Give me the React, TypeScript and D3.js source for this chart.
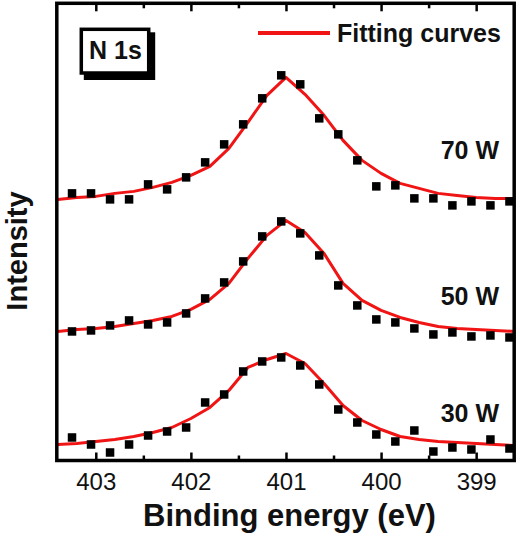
import * as d3 from "d3";
import { useEffect, useRef } from "react";

const WIDTH = 520;
const HEIGHT = 536;
const FONT = "'Liberation Sans', Arial, sans-serif";

// binding energies of the measured points (eV)
const pointEnergy = [
  403.25, 403.05, 402.85, 402.65, 402.45, 402.25, 402.05, 401.85, 401.65, 401.45, 401.25, 401.05,
  400.85, 400.65, 400.45, 400.25, 400.05, 399.85, 399.65, 399.45, 399.25, 399.05, 398.85, 398.65,
];

// energies where the fitting curves were read
const fitEnergy = [
  403.4, 403.2, 403.0, 402.8, 402.6, 402.4, 402.2, 402.0, 401.8, 401.6, 401.4, 401.2, 401.0,
  400.8, 400.6, 400.4, 400.2, 400.0, 399.8, 399.6, 399.4, 399.2, 399.0, 398.8, 398.6,
];

// intensities (a.u., stacked)
const points70W = [
  267, 267, 261, 261, 276, 271, 283, 298, 316, 336, 362, 385,
  376, 342, 326, 300, 274, 275, 262, 262, 255, 259, 255, 259,
];
const points50W = [
  129, 130, 135, 140, 136, 138, 147, 162, 178, 199, 224, 239,
  227, 205, 175, 155, 141, 138, 132, 126, 128, 124, 125, 123,
];
const points30W = [
  23, 16, 8, 16, 25, 29, 33, 58, 66, 89, 99, 103,
  95, 76, 51, 38, 26, 19, 30, 9, 13, 11, 21, 12,
];

const fit70W = [
  261, 263, 264, 267, 269, 273, 278, 285, 294, 312, 338, 365, 383,
  366, 345, 320, 300, 287, 277, 272, 267, 265, 263, 262, 262,
];
const fit50W = [
  129, 131, 132, 134, 137, 140, 144, 151, 161, 177, 202, 225, 240,
  228, 207, 177, 160, 150, 143, 138, 134, 132, 131, 130, 129,
];
const fit30W = [
  16, 17, 19, 21, 24, 28, 33, 42, 53, 70, 93, 101, 107,
  97, 77, 55, 40, 31, 24, 21, 19, 18, 17, 16, 15,
];

const seriesLabels = ["70 W", "50 W", "30 W"];
const seriesPoints = [points70W, points50W, points30W];
const seriesFits = [fit70W, fit50W, fit30W];
// baseline level of each label, in intensity units
const labelLevels = [301, 155, 38];

const majorTicks = [403, 402, 401, 400, 399];
const minorTicks = [402.5, 401.5, 400.5, 399.5];

const App = () => {
  const svgRef = useRef<SVGSVGElement>(null);

  useEffect(() => {
    if (!svgRef.current) return;
    const svg = d3.select(svgRef.current);
    svg.selectAll("*").remove();

    const left = 56.8;
    const right = 514.2;
    const top = 3.3;
    const bottom = 460.5;

    const x = d3.scaleLinear().domain([403.41, 398.6]).range([left, right]);
    const y = d3.scaleLinear().domain([0, 457]).range([bottom, top]);

    svg
      .append("defs")
      .append("clipPath")
      .attr("id", "plot-clip")
      .append("rect")
      .attr("x", left)
      .attr("y", top)
      .attr("width", right - left)
      .attr("height", bottom - top);

    // fitting curves
    const line = d3
      .line<number>()
      .x((_, i) => x(fitEnergy[i]))
      .y((d) => y(d));

    const plot = svg.append("g").attr("clip-path", "url(#plot-clip)");

    seriesFits.forEach((fit) => {
      plot
        .append("path")
        .attr("d", line(fit))
        .attr("fill", "none")
        .attr("stroke", "#f01414")
        .attr("stroke-width", 3)
        .attr("stroke-linejoin", "round");
    });

    // measured points
    const size = 8.5;
    seriesPoints.forEach((pts) => {
      svg
        .append("g")
        .selectAll("rect")
        .data(pts)
        .enter()
        .append("rect")
        .attr("x", (_, i) => x(pointEnergy[i]) - size / 2)
        .attr("y", (d) => y(d) - size / 2)
        .attr("width", size)
        .attr("height", size)
        .attr("fill", "#000");
    });

    // series labels
    seriesLabels.forEach((lab, i) => {
      svg
        .append("text")
        .attr("x", 499)
        .attr("y", y(labelLevels[i]))
        .attr("text-anchor", "end")
        .attr("font-family", FONT)
        .attr("font-size", 25)
        .attr("font-weight", "bold")
        .attr("fill", "#111")
        .text(lab);
    });

    // axes
    const bottomAxis = svg
      .append("g")
      .attr("transform", `translate(0,${bottom})`)
      .call(
        d3
          .axisBottom(x)
          .tickValues(majorTicks)
          .tickSize(-8)
          .tickPadding(12)
          .tickFormat((d) => d3.format("d")(d as number)),
      );
    bottomAxis.select(".domain").remove();
    bottomAxis
      .selectAll("text")
      .attr("font-family", FONT)
      .attr("font-size", 24)
      .attr("fill", "#111");

    const bottomMinor = svg
      .append("g")
      .attr("transform", `translate(0,${bottom})`)
      .call(d3.axisBottom(x).tickValues(minorTicks).tickSize(-5).tickFormat(() => ""));
    bottomMinor.select(".domain").remove();

    const topMajor = svg
      .append("g")
      .attr("transform", `translate(0,${top})`)
      .call(d3.axisTop(x).tickValues(majorTicks).tickSize(-8).tickFormat(() => ""));
    topMajor.select(".domain").remove();

    const topMinor = svg
      .append("g")
      .attr("transform", `translate(0,${top})`)
      .call(d3.axisTop(x).tickValues(minorTicks).tickSize(-5).tickFormat(() => ""));
    topMinor.select(".domain").remove();

    svg
      .selectAll(".tick line")
      .attr("stroke", "#000")
      .attr("stroke-width", 2.5);

    // frame
    svg
      .append("rect")
      .attr("x", left)
      .attr("y", top)
      .attr("width", right - left)
      .attr("height", bottom - top)
      .attr("fill", "none")
      .attr("stroke", "#000")
      .attr("stroke-width", 3.5);

    // axis titles
    svg
      .append("text")
      .attr("x", (left + right) / 2 + 4)
      .attr("y", 526)
      .attr("text-anchor", "middle")
      .attr("font-family", FONT)
      .attr("font-size", 31)
      .attr("font-weight", "bold")
      .attr("fill", "#111")
      .text("Binding energy (eV)");

    svg
      .append("text")
      .attr("transform", "translate(27,251) rotate(-90)")
      .attr("text-anchor", "middle")
      .attr("font-family", FONT)
      .attr("font-size", 29)
      .attr("font-weight", "bold")
      .attr("fill", "#111")
      .text("Intensity");

    // "N 1s" box with shadow
    svg
      .append("rect")
      .attr("x", 83.8)
      .attr("y", 32.3)
      .attr("width", 71.4)
      .attr("height", 47.7)
      .attr("fill", "#000");
    svg
      .append("rect")
      .attr("x", 81.3)
      .attr("y", 29.3)
      .attr("width", 67.4)
      .attr("height", 43.7)
      .attr("fill", "#fff")
      .attr("stroke", "#000")
      .attr("stroke-width", 3.5);
    svg
      .append("text")
      .attr("x", 115.5)
      .attr("y", 59.3)
      .attr("text-anchor", "middle")
      .attr("font-family", FONT)
      .attr("font-size", 25)
      .attr("font-weight", "bold")
      .attr("fill", "#111")
      .text("N 1s");

    // legend
    svg
      .append("line")
      .attr("x1", 258)
      .attr("x2", 330)
      .attr("y1", 33)
      .attr("y2", 33)
      .attr("stroke", "#f01414")
      .attr("stroke-width", 4);
    svg
      .append("text")
      .attr("x", 337)
      .attr("y", 41.7)
      .attr("font-family", FONT)
      .attr("font-size", 25)
      .attr("font-weight", "bold")
      .attr("fill", "#111")
      .text("Fitting curves");
  }, []);

  return (
    <div style={{ position: "absolute", left: 0, top: 0, background: "#fff" }}>
      <svg ref={svgRef} width={WIDTH} height={HEIGHT} />
    </div>
  );
};

export default App;
